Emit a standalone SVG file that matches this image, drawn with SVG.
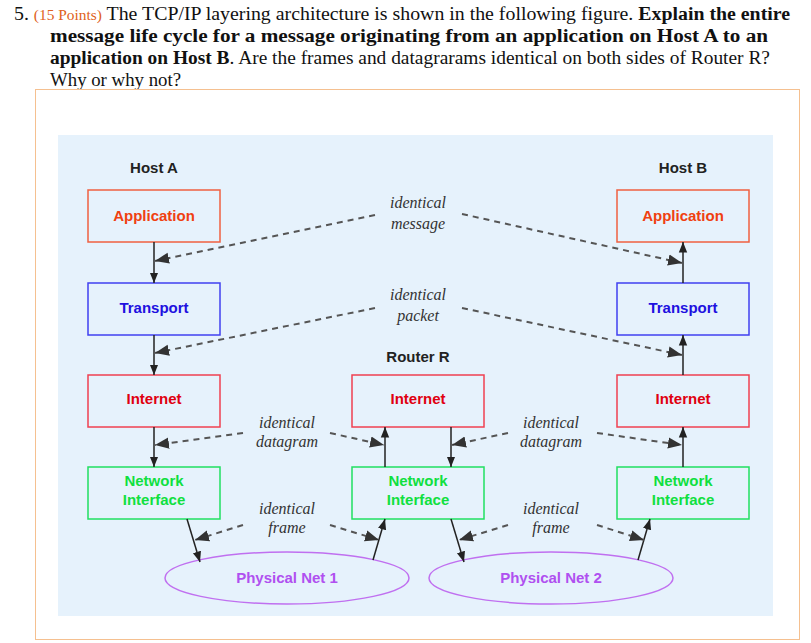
<svg xmlns="http://www.w3.org/2000/svg" width="811" height="643" viewBox="0 0 811 643">
<defs>
<marker id="a" viewBox="0 0 10 10" refX="10" refY="5" markerWidth="7" markerHeight="7" orient="auto"><path d="M0,1 L10,5 L0,9 z" fill="#222"/></marker>
<marker id="d" viewBox="0 0 10 10" refX="10" refY="5" markerWidth="7" markerHeight="7" orient="auto"><path d="M0,1 L10,5 L0,9 z" fill="#333"/></marker>
</defs>
<style>
.q{font-family:"Liberation Serif",serif;font-size:18px;fill:#111}
.b{font-weight:bold}
.box{fill:none;stroke-width:1.5}
.t{font-family:"Liberation Sans",Arial,sans-serif;font-weight:bold;font-size:15px;text-anchor:middle}
.i{font-family:"Liberation Serif",serif;font-style:italic;font-size:16px;fill:#333;text-anchor:middle}
.v{stroke:#222;stroke-width:1.5;marker-end:url(#a)}
.ds{stroke:#555;stroke-width:2;stroke-dasharray:6,5;fill:none;marker-end:url(#d)}
</style>
<rect width="811" height="643" fill="#fff"/>
<text class="q" x="14" y="20" textLength="776" lengthAdjust="spacingAndGlyphs">5.  <tspan font-size="14" fill="#e06020">(15 Points)</tspan> The TCP/IP layering architecture is shown in the following figure. <tspan class="b">Explain the entire</tspan></text>
<text class="q b" x="50" y="42" textLength="718" lengthAdjust="spacingAndGlyphs">message life cycle for a message originating from an application on Host A to an</text>
<text class="q" x="50" y="64" textLength="720" lengthAdjust="spacingAndGlyphs"><tspan class="b">application on Host B</tspan>. Are the frames and datagrarams identical on both sides of Router R?</text>
<text class="q" x="50" y="86" textLength="131" lengthAdjust="spacingAndGlyphs">Why or why not?</text>
<rect x="35.500" y="89.500" width="764" height="550" fill="none" stroke="#f5c090"/>
<rect x="58" y="135" width="715" height="481" fill="#e6f2fc"/>
<g id="labels">
<text class="t" x="154" y="173" fill="#222">Host A</text>
<text class="t" x="683" y="173" fill="#222">Host B</text>
<text class="t" x="418" y="362" fill="#222">Router R</text>
</g>
<g id="appA"><rect class="box" x="88" y="190" width="132" height="52" stroke="#f06040"/><text class="t" x="154" y="221" fill="#f04010">Application</text></g>
<g id="trA"><rect class="box" x="88" y="283" width="132" height="52" stroke="#4040f0"/><text class="t" x="154" y="313" fill="#2010e0">Transport</text></g>
<g id="inA"><rect class="box" x="88" y="375" width="132" height="52" stroke="#f04050"/><text class="t" x="154" y="404" fill="#e00010">Internet</text></g>
<g id="niA"><rect class="box" x="88" y="467" width="132" height="52" stroke="#20e060"/><text class="t" x="154" y="486" fill="#10e040">Network</text><text class="t" x="154" y="505" fill="#10e040">Interface</text></g>
<g id="inR"><rect class="box" x="352" y="375" width="132" height="52" stroke="#f04050"/><text class="t" x="418" y="404" fill="#e00010">Internet</text></g>
<g id="niR"><rect class="box" x="352" y="467" width="132" height="52" stroke="#20e060"/><text class="t" x="418" y="486" fill="#10e040">Network</text><text class="t" x="418" y="505" fill="#10e040">Interface</text></g>
<g id="appB"><rect class="box" x="617" y="190" width="132" height="52" stroke="#f06040"/><text class="t" x="683" y="221" fill="#f04010">Application</text></g>
<g id="trB"><rect class="box" x="617" y="283" width="132" height="52" stroke="#4040f0"/><text class="t" x="683" y="313" fill="#2010e0">Transport</text></g>
<g id="inB"><rect class="box" x="617" y="375" width="132" height="52" stroke="#f04050"/><text class="t" x="683" y="404" fill="#e00010">Internet</text></g>
<g id="niB"><rect class="box" x="617" y="467" width="132" height="52" stroke="#20e060"/><text class="t" x="683" y="486" fill="#10e040">Network</text><text class="t" x="683" y="505" fill="#10e040">Interface</text></g>
<g id="net1"><ellipse cx="287" cy="578" rx="122" ry="26" fill="none" stroke="#c070f0" stroke-width="1.5"/><text class="t" x="287" y="583" fill="#b050f0">Physical Net 1</text></g>
<g id="net2"><ellipse cx="551" cy="578" rx="122" ry="26" fill="none" stroke="#c070f0" stroke-width="1.5"/><text class="t" x="551" y="583" fill="#b050f0">Physical Net 2</text></g>
<g id="connectors">
<line class="v" x1="154" y1="242" x2="154" y2="283"/>
<line class="v" x1="154" y1="335" x2="154" y2="375"/>
<line class="v" x1="154" y1="427" x2="154" y2="467"/>
<line class="v" x1="187" y1="519" x2="200" y2="562"/>
<line class="v" x1="373" y1="560" x2="385" y2="519"/>
<line class="v" x1="385" y1="467" x2="385" y2="427"/>
<line class="v" x1="451" y1="427" x2="451" y2="467"/>
<line class="v" x1="451" y1="519" x2="464" y2="562"/>
<line class="v" x1="638" y1="560" x2="650" y2="519"/>
<line class="v" x1="683" y1="467" x2="683" y2="427"/>
<line class="v" x1="683" y1="375" x2="683" y2="335"/>
<line class="v" x1="683" y1="283" x2="683" y2="242"/>
<path class="ds" d="M375,215 L155,261"/><path class="ds" d="M462,214 L682,263"/>
<path class="ds" d="M375,308 L155,353"/><path class="ds" d="M462,308 L682,355"/>
<path class="ds" d="M243,433 L155,445"/><path class="ds" d="M330,433 L384,445"/>
<path class="ds" d="M508,433 L452,445"/><path class="ds" d="M597,433 L682,445"/>
<path class="ds" d="M243,525 L195,540"/><path class="ds" d="M330,525 L379,540"/>
<path class="ds" d="M508,525 L459,540"/><path class="ds" d="M597,525 L644,540"/>
</g>
<g id="conlabels">
<text class="i" x="418" y="208">identical</text><text class="i" x="418" y="229">message</text>
<text class="i" x="418" y="300">identical</text><text class="i" x="418" y="321">packet</text>
<text class="i" x="287" y="428">identical</text><text class="i" x="287" y="447">datagram</text>
<text class="i" x="551" y="428">identical</text><text class="i" x="551" y="447">datagram</text>
<text class="i" x="287" y="514">identical</text><text class="i" x="287" y="533">frame</text>
<text class="i" x="551" y="514">identical</text><text class="i" x="551" y="533">frame</text>
</g>
</svg>
